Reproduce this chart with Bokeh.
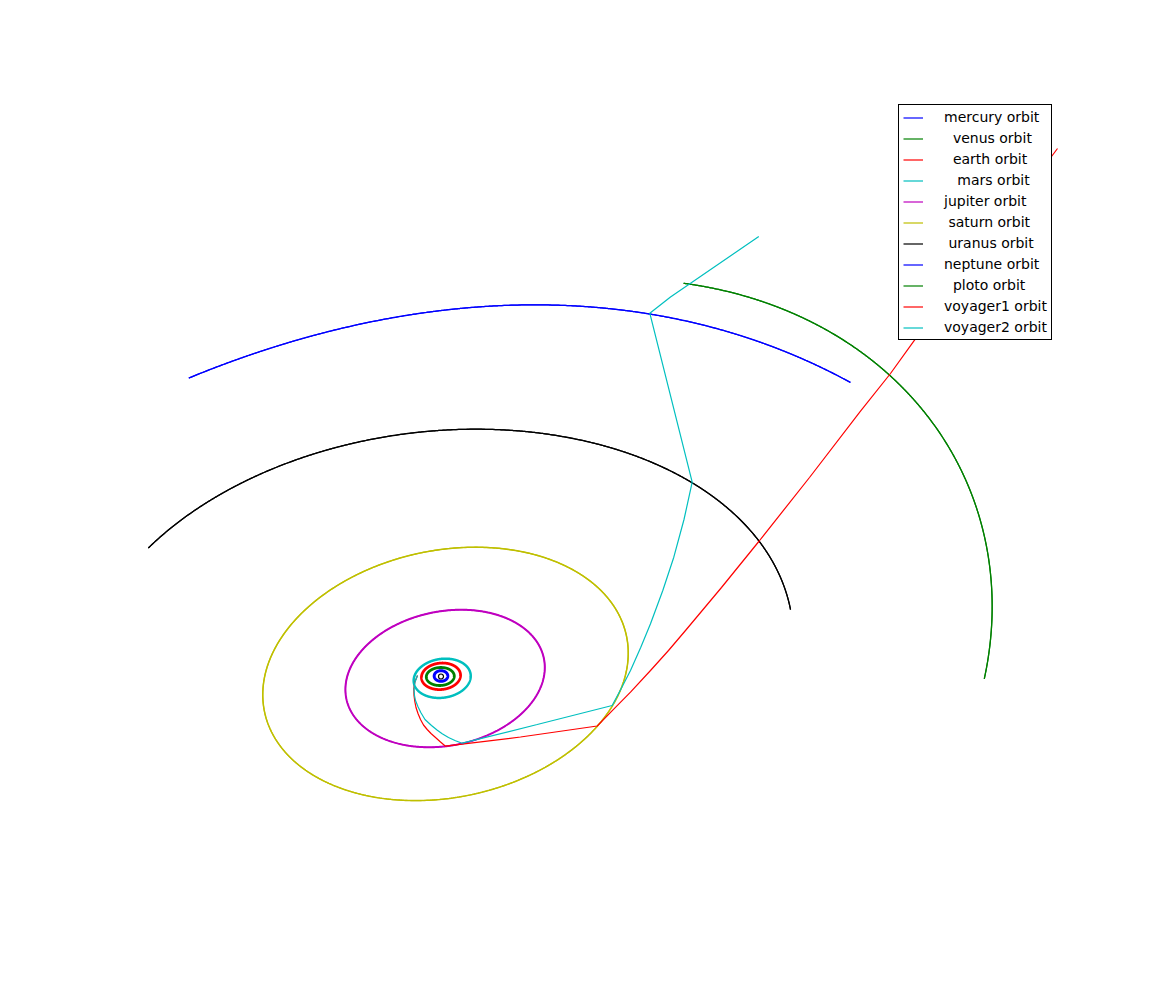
import numpy as np
from bokeh.plotting import figure
from bokeh.models import Range1d, Legend, LegendItem
from bokeh.embed import file_html
from bokeh.resources import INLINE

TWO_PI = 2 * np.pi

# Projected orbits: centre, semi-axes, tilt (rad), angular span
orbit_labels = ["mercury orbit", "\u00a0\u00a0venus orbit", "\u00a0\u00a0earth orbit", "\u00a0\u00a0\u00a0mars orbit",
                "jupiter orbit", "\u00a0saturn orbit", "\u00a0uranus orbit", "neptune orbit", "\u00a0\u00a0ploto orbit"]
orbit_colors = ["#0000ff", "#008000", "#ff0000", "#00bfbf", "#bf00bf", "#bfbf00", "#000000", "#0000ff", "#008000"]
orbit_cx = [440.5, 439.8, 440.5, 441.7, 444.6, 445.0, 436.2, 217.9, 568.1]
orbit_cy = [675.5, 676.0, 675.8, 677.8, 678.0, 673.4, 664.3, 1497.3, 654.3]
orbit_a = [6.8, 14.0, 19.6, 28.7, 100.8, 184.9, 233.1, 1282.1, 363.5]
orbit_b = [5.3, 9.0, 13.2, 19.4, 67.1, 123.5, 358.3, 881.4, 433.9]
orbit_tilt = [0.0, -0.05, -0.10, -0.149, -0.20, -0.2065, 1.4444, -1.0420, 1.1621]
orbit_t0 = [0.0, 0.0, 0.0, 0.0, 0.0, 0.0, 2.2822, -0.7341, -2.5186]
orbit_t1 = [TWO_PI, TWO_PI, TWO_PI, TWO_PI, TWO_PI, TWO_PI, 4.6684, -0.0193, -1.0298]
orbit_widths = [3.0, 2.8, 2.8, 2.5, 2.0, 1.5, 1.3, 1.3, 1.3]

# Sun
sun_x = [440.5]
sun_y = [676.0]

# Voyager trajectories (projected points)
voyager1_x = [417, 414.5, 413.3, 413.5, 414.3, 415.5, 417.5, 420, 423, 426.7, 430.5, 435, 440, 445,
              520, 596.7, 613, 630, 650, 668, 685, 721, 758.3, 809, 860, 890, 913.3, 1057]
voyager1_y = [675, 681, 688, 695, 701, 707, 713, 719, 724.5, 729, 733, 737, 741.5, 745.7,
              736.5, 725.5, 708.8, 691.7, 670, 650, 630, 587, 541, 477, 410.7, 373, 340.7, 148]
voyager2_x = [417, 414.3, 413.5, 414, 415, 417.4, 420.3, 424.5, 431, 436.5, 441.7, 448, 455, 461.7,
              536.7, 611.7, 621, 630, 640.3, 650, 662.3, 673.3, 683.5, 691.7, 649.3, 670, 758.3]
voyager2_y = [675, 682, 689, 695, 700, 706, 712, 719, 725, 729.5, 733.3, 737, 740.2, 742.7,
              724, 705, 687.5, 670, 646.7, 623.3, 590, 556.7, 519, 481.7, 312.7, 296.5, 236]


def ellipse_points(cx, cy, a, b, phi, t0, t1, n=600):
    t = np.linspace(t0, t1, n)
    x = cx + a * np.cos(t) * np.cos(phi) - b * np.sin(t) * np.sin(phi)
    y = cy + a * np.cos(t) * np.sin(phi) + b * np.sin(t) * np.cos(phi)
    return x, y


W, H = 1159, 976
p = figure(width=W, height=H, output_backend="svg", toolbar_location=None,
           x_range=Range1d(0, W), y_range=Range1d(H, 0), min_border=0)
p.axis.visible = False
p.grid.visible = False
p.outline_line_color = None
p.background_fill_color = "white"
p.border_fill_color = "white"

items = []
for i in range(len(orbit_labels)):
    x, y = ellipse_points(orbit_cx[i], orbit_cy[i], orbit_a[i], orbit_b[i],
                          orbit_tilt[i], orbit_t0[i], orbit_t1[i])
    # thin line (used for the legend sample), then the heavier visible stroke on top
    thin = p.line(x, y, line_color=orbit_colors[i], line_width=1.2)
    p.line(x, y, line_color=orbit_colors[i], line_width=orbit_widths[i])
    items.append(LegendItem(label=orbit_labels[i], renderers=[thin]))

p.scatter(sun_x, sun_y, marker="circle", size=5, fill_color=None, line_color="black", line_width=1.2)

r1 = p.line(voyager1_x, voyager1_y, line_color="#ff0000", line_width=1.2)
items.append(LegendItem(label="voyager1 orbit", renderers=[r1]))
r2 = p.line(voyager2_x, voyager2_y, line_color="#00bfbf", line_width=1.2)
items.append(LegendItem(label="voyager2 orbit", renderers=[r2]))

legend = Legend(items=items, location=(898, H - 340), margin=0, padding=4, spacing=5,
                label_height=15, glyph_height=15, glyph_width=20, label_standoff=21,
                label_text_font="DejaVu Sans", label_text_font_size="14px",
                label_text_color="black", border_line_color="black", border_line_width=1,
                border_line_alpha=1.0, background_fill_color="white", background_fill_alpha=1.0)
p.add_layout(legend)

open("out.html", "w").write(file_html(p, INLINE))
